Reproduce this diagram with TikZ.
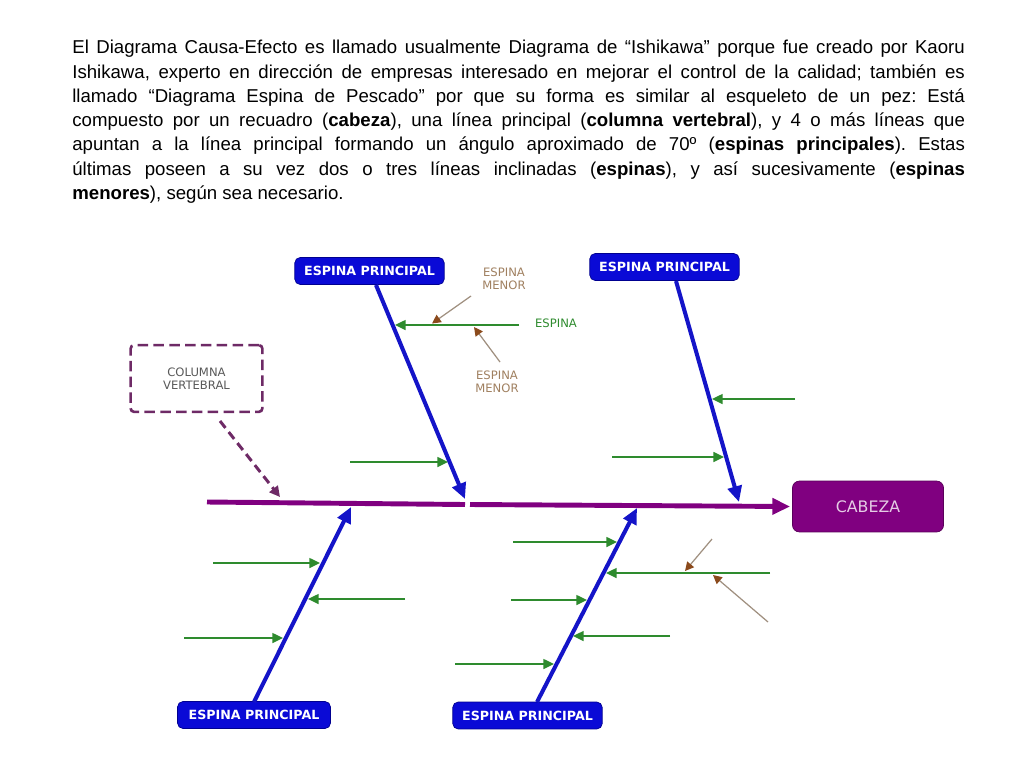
\documentclass[tikz,border=0pt]{standalone}
\usepackage{fontspec}
\setmainfont{Liberation Sans}
\newfontfamily\verd{DejaVu Sans}
\usetikzlibrary{arrows.meta}
\definecolor{bonec}{HTML}{1414C8}
\definecolor{boxc}{HTML}{0A0AD6}
\definecolor{boxd}{HTML}{000090}
\definecolor{ribc}{HTML}{2E8B2E}
\definecolor{spinec}{HTML}{800080}
\definecolor{minorc}{HTML}{A09080}
\definecolor{minorhead}{HTML}{8B4A1C}
\definecolor{labc}{HTML}{A08060}
\definecolor{colc}{HTML}{6E2A66}
\frenchspacing
\begin{document}
\begin{tikzpicture}[x=0.02cm,y=-0.02cm,
  pbox/.style={draw=boxd, fill=boxc, rounded corners=3pt, text=white, inner sep=0pt,
    font=\verd\bfseries\fontsize{7.2}{8}\selectfont, minimum width=85pt, minimum height=15.3pt},
  headbox/.style={draw=spinec!70!black, fill=spinec, rounded corners=4pt, text=spinec!20!white, inner sep=0pt,
    font=\verd\fontsize{9}{10}\selectfont, minimum width=86pt, minimum height=29pt},
  colbox/.style={draw=colc, line width=1.5pt, dash pattern=on 6pt off 3pt, rounded corners=2pt, fill=white,
    text=black!65, inner sep=0pt, align=center, font=\verd\fontsize{6.6}{7.2}\selectfont,
    minimum width=75pt, minimum height=38pt},
  minlab/.style={text=labc, align=center, inner sep=0pt, font=\verd\fontsize{6.6}{7.4}\selectfont},
  riblab/.style={text=ribc, inner sep=0pt, font=\verd\fontsize{6.6}{7.4}\selectfont},
  bone/.style={draw=bonec, line width=2.3pt, -{Triangle[length=9pt,width=8pt]}},
  spinel/.style={draw=spinec, line width=2.8pt},
  rib/.style={draw=ribc, line width=1.2pt, -{Triangle[length=6pt,width=5.5pt]}},
  minor/.style={draw=minorc, line width=0.7pt, -{Triangle[length=5pt,width=5pt,color=minorhead]}},
  colarrow/.style={draw=colc, line width=1.7pt, dash pattern=on 5pt off 3pt, -{Triangle[length=6pt,width=6pt]}}
]
\useasboundingbox[fill=white] (0,0) rectangle (1024,768);

% paragraph
\node[anchor=north west, inner sep=0pt, text width=508pt, align=justify,
  font=\fontsize{10.6}{13.8}\selectfont] (para) at (72,40)
{El Diagrama Causa-Efecto es llamado usualmente Diagrama de “Ishikawa” porque fue creado por Kaoru\linebreak
Ishikawa, experto en dirección de empresas interesado en mejorar el control de la calidad; también es\linebreak
llamado “Diagrama Espina de Pescado” por que su forma es similar al esqueleto de un pez: Está\linebreak
compuesto por un recuadro (\textbf{cabeza}), una línea principal (\textbf{columna vertebral}), y 4 o más líneas que\linebreak
apuntan a la línea principal formando un ángulo aproximado de 70º (\textbf{espinas principales}). Estas\linebreak
últimas poseen a su vez dos o tres líneas inclinadas (\textbf{espinas}), y así sucesivamente (\textbf{espinas\linebreak
menores}), según sea necesario.};

% boxes
\node[pbox] (tl) at (369.5,271) {ESPINA PRINCIPAL};
\node[pbox] (tr) at (664.5,267) {ESPINA PRINCIPAL};
\node[pbox, minimum width=87pt] (bl) at (254,715) {ESPINA PRINCIPAL};
\node[pbox] (br) at (527.5,715.5) {ESPINA PRINCIPAL};
\node[headbox] (cab) at (868,506.5) {CABEZA};
\node[colbox] (col) at (196.5,378.5) {COLUMNA\\VERTEBRAL};

% labels
\node[minlab] (lm1) at (504,279) {ESPINA\\MENOR};
\node[minlab] (lm2) at (497,382) {ESPINA\\MENOR};
\node[riblab] (lesp) at (556,323) {ESPINA};

% spine
\coordinate (s0) at (207,502);
\coordinate (s1) at (465,504.5);
\coordinate (s2) at (470,504.5);
\coordinate (s3) at (790,506.5);
\draw[spinel] (s0) -- (s1);
\draw[spinel, -{Triangle[length=10pt,width=9pt]}] (s2) -- (s3);

% column arrow
\coordinate (ca0) at (220,421);
\coordinate (ca1) at (280,497);
\draw[colarrow] (ca0) -- (ca1);

% main bones
\coordinate (tlb) at (376,285);  \coordinate (tlt) at (465,499);
\coordinate (trb) at (676,281);  \coordinate (trt) at (739,502);
\coordinate (blb) at (254,702);  \coordinate (blt) at (351,507);
\coordinate (brb) at (537,702);  \coordinate (brt) at (637,508);
\draw[bone] (tlb) -- (tlt);
\draw[bone] (trb) -- (trt);
\draw[bone] (blb) -- (blt);
\draw[bone] (brb) -- (brt);

% ribs: top-left
\coordinate (a1) at (519,325); \coordinate (a1h) at (395,325);
\coordinate (a2) at (350,462); \coordinate (a2h) at (448,462);
% top-right
\coordinate (b1) at (795,399); \coordinate (b1h) at (712,399);
\coordinate (b2) at (612,457); \coordinate (b2h) at (724,457);
% bottom-left
\coordinate (c1) at (213,563); \coordinate (c1h) at (320,563);
\coordinate (c2) at (405,599); \coordinate (c2h) at (308,599);
\coordinate (c3) at (184,638); \coordinate (c3h) at (283,638);
% bottom-right
\coordinate (d1) at (513,542); \coordinate (d1h) at (617,542);
\coordinate (d2) at (770,573); \coordinate (d2h) at (606,573);
\coordinate (d3) at (511,600); \coordinate (d3h) at (587,600);
\coordinate (d4) at (670,636); \coordinate (d4h) at (573,636);
\coordinate (d5) at (455,664); \coordinate (d5h) at (554,664);
\foreach \p in {a1,a2,b1,b2,c1,c2,c3,d1,d2,d3,d4,d5}
  \draw[rib] (\p) -- (\p h);

% minor arrows
\coordinate (m1) at (471,296); \coordinate (m1h) at (432,323.5);
\coordinate (m2) at (500,362); \coordinate (m2h) at (474,327);
\coordinate (m3) at (712,539); \coordinate (m3h) at (685,571);
\coordinate (m4) at (768,622); \coordinate (m4h) at (713,575);
\foreach \p in {m1,m2,m3,m4}
  \draw[minor] (\p) -- (\p h);
\end{tikzpicture}
\end{document}
